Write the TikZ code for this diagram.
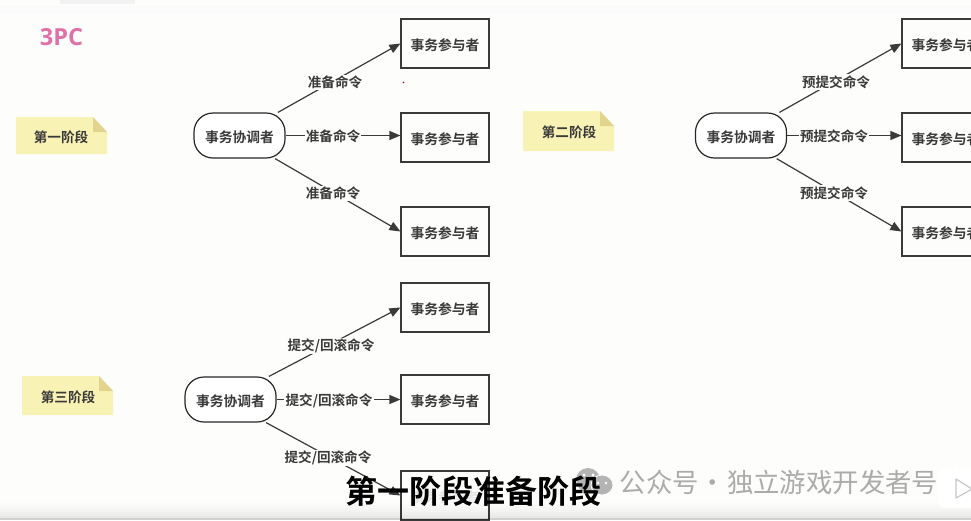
\documentclass[tikz,border=0pt]{standalone}
\usepackage{fontspec}
\usetikzlibrary{arrows.meta,positioning}
\newfontfamily\cjk[BoldFont={Noto Sans CJK SC Bold}]{Noto Sans CJK SC}
\newfontfamily\latinb[BoldFont={Open Sans Bold}]{Open Sans}
\definecolor{bgc}{HTML}{FDFDFB}
\definecolor{ink}{HTML}{3A3A3A}
\definecolor{noteC}{HTML}{F8F2B4}
\definecolor{foldC}{HTML}{E2D38F}
\definecolor{markC}{HTML}{B4B4B4}
\definecolor{pinkC}{HTML}{E070A8}
\tikzset{
  x=1pt,y=-1pt,
  part/.style={draw=ink,line width=1.2pt,fill=bgc,minimum width=88pt,minimum height=49pt,inner sep=0pt,text=ink,text height=15pt,text depth=1.4pt,font=\cjk\bfseries\fontsize{13.8}{15}\selectfont},
  coord/.style={draw=black!85,line width=1.2pt,fill=white,rounded corners=19pt,minimum width=91pt,minimum height=45pt,inner sep=0pt,text=ink,text height=15pt,text depth=1.4pt,font=\cjk\bfseries\fontsize{13.8}{15}\selectfont},
  arrow/.style={draw=ink,line width=1.2pt,-{Triangle[length=11pt,width=9pt]}},
  cmd/.style={fill=bgc,inner sep=1.2pt,text=ink,font=\cjk\bfseries\fontsize{13.6}{15}\selectfont},
  notetext/.style={inner sep=0pt,text=ink,font=\cjk\bfseries\fontsize{13.6}{15}\selectfont},
  note/.style={fill=noteC},
  fold/.style={fill=foldC},
}
\begin{document}
\begin{tikzpicture}
\useasboundingbox (0,0) rectangle (971,520);
\clip (0,0) rectangle (971,520);
\fill[bgc] (0,0) rectangle (971,520);
% faint band at the top
\fill[black!1.5] (0,6) rectangle (971,14);
\fill[black!5] (60,0) rectangle (135,4);

\node[font=\latinb\bfseries\fontsize{23.5}{25}\selectfont,text=pinkC,inner sep=0pt] (title) at (61.5,37.5) {3PC};
\fill[red!70!black] (403.5,82.5) circle (0.8);

% notes
\fill[note] (16,117) -- (93,117) -- (107,132) -- (107,154) -- (16,154) -- cycle;
\fill[fold] (93,117) -- (107,132) -- (93,132) -- cycle;
\node[notetext] (n1) at (61,137) {第一阶段};
\fill[note] (523,111) -- (600,111) -- (614,126) -- (614,151) -- (523,151) -- cycle;
\fill[fold] (600,111) -- (614,126) -- (600,126) -- cycle;
\node[notetext] (n2) at (569,132) {第二阶段};
\fill[note] (22,376) -- (99,376) -- (113,391) -- (113,415) -- (22,415) -- cycle;
\fill[fold] (99,376) -- (113,391) -- (99,391) -- cycle;
\node[notetext] (n3) at (68,397) {第三阶段};

% phase one
\node[coord] (a) at (239.5,135.5) {事务协调者};
\node[part] (a1) at (445,43.5) {事务参与者};
\node[part] (a2) at (445,137.5) {事务参与者};
\node[part] (a3) at (445,231.5) {事务参与者};
\draw[arrow] (a.31) -- (a1.west);
\draw[arrow] (a.east) -- (a.east -| a2.west);
\draw[arrow] (a.-33) -- (a3.west);
\node[cmd] (la1) at (335,82.5) {准备命令};
\node[cmd] (la2) at (333,136) {准备命令};
\node[cmd] (la3) at (333,193.5) {准备命令};

% phase two
\node[coord] (b) at (741,135.5) {事务协调者};
\node[part] (b1) at (946,43.5) {事务参与者};
\node[part] (b2) at (946,137.5) {事务参与者};
\node[part] (b3) at (946,231.5) {事务参与者};
\draw[arrow] (b.31) -- (b1.west);
\draw[arrow] (b.east) -- (b.east -| b2.west);
\draw[arrow] (b.-33) -- (b3.west);
\node[cmd] (lb1) at (836,82) {预提交命令};
\node[cmd] (lb2) at (834,136) {预提交命令};
\node[cmd] (lb3) at (834,193) {预提交命令};

% phase three
\node[coord] (c) at (230.5,399.5) {事务协调者};
\node[part] (c1) at (445,307.5) {事务参与者};
\node[part] (c2) at (445,399.5) {事务参与者};
\node[part,text=black!10] (c3) at (445,495.5) {事务参与者};
\draw[arrow] (c.31) -- (c1.west);
\draw[arrow] (c.east) -- (c.east -| c2.west);
\draw[arrow] (c.-33) -- (c3.west);
\node[cmd] (lc1) at (331,346) {提交/回滚命令};
\node[cmd] (lc2) at (329,400.5) {提交/回滚命令};
\node[cmd] (lc3) at (328,458) {提交/回滚命令};

% bottom shading, in thin strips
\foreach \i in {0,...,9} {
  \fill[black,opacity=0.0035*\i*\i/5+0.004*\i] (0,500+2*\i) rectangle (971,502+2*\i);
}
\fill[black,opacity=0.09] (0,518) rectangle (971,520);

% watermark
\fill[markC] (588,480) ellipse (12 and 12);
\fill[markC,draw=white,line width=0.8pt] (602,485) ellipse (11 and 10);
\fill[white] (584,475) circle (1.6) (593,475) circle (1.6) (598,483) circle (1.3) (606,483) circle (1.3);
\node[inner sep=0pt,text=black!33,font=\cjk\fontsize{26.4}{28}\selectfont] (wm) at (779,482) {公众号\hspace{1pt}·\hspace{1pt}独立游戏开发者号};
\fill[white,rounded corners=7pt] (938,468) rectangle (985,508);
\draw[white,line width=2pt] (950,458) -- (957,468);
\draw[black!22,line width=1.2pt,line join=round] (956,479) -- (956,498) -- (972,489) -- cycle;

% caption
\node[inner sep=0pt,text=black,font=\cjk\bfseries\fontsize{32}{34}\selectfont] (cap) at (473.5,491) {第一阶段准备阶段};
\end{tikzpicture}
\end{document}
